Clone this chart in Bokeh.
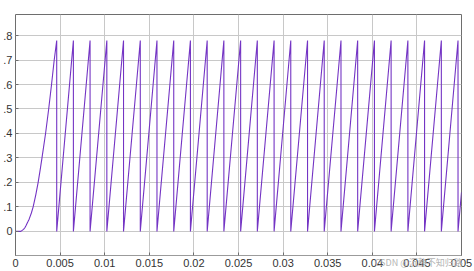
from bokeh.plotting import figure
from bokeh.models import Range1d, FixedTicker, LinearAxis
from bokeh.embed import file_html
from bokeh.resources import INLINE

# initial start-up curve (time s, value)
start_t = [0.0, 0.0006, 0.0009, 0.00105, 0.0012, 0.0014, 0.00153, 0.00178, 0.00198, 0.00228,
           0.00254, 0.00276, 0.00297, 0.00337, 0.00372, 0.00404, 0.00434, 0.00462]
start_v = [0.0, 0.0, 0.008, 0.015, 0.025, 0.04, 0.05, 0.075, 0.1, 0.15,
           0.2, 0.25, 0.3, 0.4, 0.5, 0.6, 0.7, 0.78]

# sawtooth peak times (s) and peak value
peak_t = [0.00462, 0.00649, 0.00836, 0.01024, 0.01211, 0.01399, 0.01586, 0.01774,
          0.01961, 0.02149, 0.02336, 0.02524, 0.02711, 0.02899, 0.03086, 0.03274,
          0.03461, 0.03649, 0.03836, 0.04024, 0.04211, 0.04399, 0.04586, 0.04774, 0.04961]
peak_v = 0.78
end_t = 0.05
end_v = 0.16

x_ticks = [0, 0.005, 0.01, 0.015, 0.02, 0.025, 0.03, 0.035, 0.04, 0.045, 0.05]
x_labels = ["0", "0.005", "0.01", "0.015", "0.02", "0.025", "0.03", "0.035", "0.04", "0.045", "0.05"]
y_ticks = [-0.1, 0, 0.1, 0.2, 0.3, 0.4, 0.5, 0.6, 0.7, 0.8]
y_labels = ["", "0", ".1", ".2", ".3", ".4", ".5", ".6", ".7", ".8"]
watermark = "CSDN @沉静不知归路"

# build trace
xs = list(start_t)
ys = list(start_v)
for i, t in enumerate(peak_t):
    if i > 0:
        xs.append(t); ys.append(peak_v)
    xs.append(t); ys.append(0.0)
xs.append(end_t); ys.append(end_v)

p = figure(width=474, height=271, output_backend="svg", toolbar_location=None,
           x_range=Range1d(0, 0.05), y_range=Range1d(-0.0985, 0.886),
           min_border_left=13, min_border_right=13, min_border_top=14, min_border_bottom=15)
p.background_fill_color = "white"
p.border_fill_color = "white"
p.outline_line_color = "#6e6e6e"
p.outline_line_width = 1

p.line(xs, ys, line_color="#7434c4", line_width=1.1)

font = "Liberation Sans"
xax = p.xaxis[0]
yax = p.yaxis[0]
xax.ticker = FixedTicker(ticks=x_ticks)
xax.major_label_overrides = {t: l for t, l in zip(x_ticks, x_labels)}
yax.ticker = FixedTicker(ticks=y_ticks)
yax.major_label_overrides = {t: l for t, l in zip(y_ticks, y_labels)}
for ax in (xax, yax):
    ax.axis_line_color = None
    ax.major_tick_in = 3
    ax.major_tick_out = 0
    ax.minor_tick_line_color = None
    ax.major_tick_line_color = "#6e6e6e"
    ax.major_label_text_font = font
    ax.major_label_text_font_size = "11px"
    ax.major_label_text_color = "#333333"
    ax.major_label_standoff = 3

# watermark: a second, tick-less axis below whose single label overlaps the tick labels
wm_pos = 0.0452
wm_axis = LinearAxis(ticker=FixedTicker(ticks=[wm_pos]),
                     major_label_overrides={wm_pos: watermark},
                     axis_line_color=None, major_tick_line_color=None,
                     minor_tick_line_color=None,
                     major_tick_in=0, major_tick_out=0,
                     major_label_standoff=-14,
                     major_label_text_font="Noto Sans CJK SC",
                     major_label_text_font_size="9px",
                     major_label_text_color="#b4b4b4")
p.add_layout(wm_axis, "below")

p.xgrid.grid_line_color = "#c8c8c8"
p.ygrid.grid_line_color = "#c8c8c8"
p.xgrid.grid_line_width = 1
p.ygrid.grid_line_width = 1

open("out.html", "w").write(file_html(p, INLINE))
